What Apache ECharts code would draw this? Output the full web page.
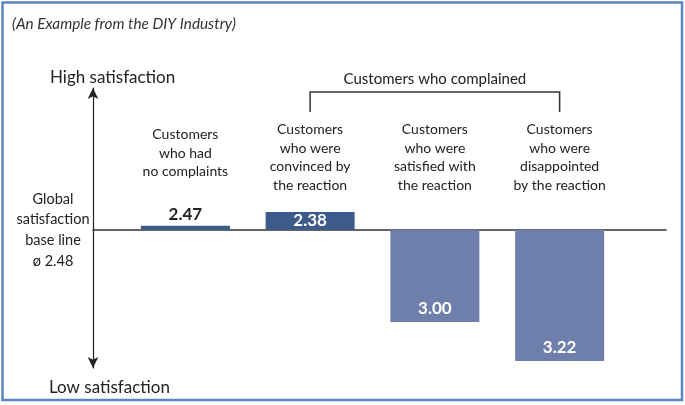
<!DOCTYPE html>
<html><head><meta charset="utf-8">
<script src="https://cdn.jsdelivr.net/npm/echarts@6/dist/echarts.min.js"></script>
<style>html,body{margin:0;padding:0;background:#fff}#c{width:685px;height:405px}</style>
</head><body><div id="c"></div>
<script>
const categories = [
  'Customers\nwho had\nno complaints',
  'Customers\nwho were\nconvinced by\nthe reaction',
  'Customers\nwho were\nsatisfied with\nthe reaction',
  'Customers\nwho were\ndisappointed\nby the reaction'
];
const scores = [2.47, 2.38, 3.00, 3.22];
const baseline = 2.48;
const barColors = ['#3c5a8a', '#3c5a8a', '#6e7fab', '#6e7fab'];
const labelColors = ['#222222', '#ffffff', '#ffffff', '#ffffff'];
const labelPositions = ['top', 'inside', 'insideBottom', 'insideBottom'];
const groupLabel = 'Customers who complained';
const subtitle = '(An Example from the DIY Industry)';
const axisTopText = 'High satisfaction';
const axisBottomText = 'Low satisfaction';
const baselineText = 'Global\nsatisfaction\nbase line\n\u00f8 ' + baseline.toFixed(2);

const FONT = 'Lato';
const gridTop = 88, gridBottom = 37;
const yMin = -0.8, yMax = 0.78;

const chart = echarts.init(document.getElementById('c'));

const seriesData = scores.map((v, i) => ({
  value: +(v - baseline).toFixed(4),
  itemStyle: { color: barColors[i] },
  label: {
    show: true,
    position: labelPositions[i],
    distance: labelPositions[i] === 'top' ? 3 : 5,
    color: labelColors[i],
    formatter: () => v.toFixed(2)
  }
}));

const catLabelStyle = { verticalAlign: 'top', fontFamily: FONT, fontSize: 14, lineHeight: 18.7, color: '#222' };

const option = {
  animation: false,
  backgroundColor: '#ffffff',
  grid: [
    { left: 123, right: 63, top: gridTop, bottom: gridBottom },
    { left: 93, right: 19, top: gridTop, bottom: gridBottom }
  ],
  xAxis: [
    {
      type: 'category', gridIndex: 0,
      data: categories.map((c, i) => i === 0 ? { value: c, textStyle: Object.assign({}, catLabelStyle, { padding: [5, 0, 0, 0] }) } : c),
      position: 'top', offset: -40,
      axisLine: { show: false, onZero: false }, axisTick: { show: false },
      axisLabel: Object.assign({ interval: 0, margin: 8 }, catLabelStyle),
      splitLine: { show: false }
    },
    {
      type: 'value', gridIndex: 1, min: 0, max: 1,
      axisLine: { show: true, onZero: true, lineStyle: { color: '#333', width: 1.5 } },
      axisTick: { show: false }, axisLabel: { show: false }, splitLine: { show: false }
    }
  ],
  yAxis: [
    { type: 'value', gridIndex: 0, inverse: true, min: yMin, max: yMax, show: false, splitLine: { show: false } },
    {
      type: 'value', gridIndex: 1, inverse: true, min: yMin, max: yMax,
      axisLine: { show: true, onZero: false, symbol: ['arrow', 'arrow'], symbolSize: [8, 11], lineStyle: { color: '#222', width: 1.2 } },
      axisTick: { show: false }, axisLabel: { show: false }, splitLine: { show: false }
    }
  ],
  series: [{
    type: 'bar', xAxisIndex: 0, yAxisIndex: 0,
    barWidth: 89, barMinHeight: 4,
    label: { fontFamily: FONT, fontSize: 17, fontWeight: 'bold' },
    data: seriesData
  }]
};
chart.setOption(option);

const pA = chart.convertToPixel({ xAxisIndex: 0, yAxisIndex: 0 }, [1, 0]);
const pB = chart.convertToPixel({ xAxisIndex: 0, yAxisIndex: 0 }, [3, 0]);

chart.setOption({
  graphic: [
    { type: 'rect', silent: true, shape: { x: 2.5, y: 2.5, width: 679.5, height: 397.5 }, style: { fill: null, stroke: '#5a86bb', lineWidth: 2.5 } },
    { type: 'text', x: 12, y: 24, style: { text: subtitle, fontFamily: FONT, fontStyle: 'italic', fontSize: 15.3, fill: '#333', verticalAlign: 'middle' } },
    { type: 'text', x: 50, y: 78, style: { text: axisTopText, fontFamily: FONT, fontSize: 17, fill: '#222', verticalAlign: 'middle' } },
    { type: 'text', x: 49, y: 388, style: { text: axisBottomText, fontFamily: FONT, fontSize: 17, fill: '#222', verticalAlign: 'middle' } },
    { type: 'text', x: 53, y: 230, style: { text: baselineText, fontFamily: FONT, fontSize: 14.5, lineHeight: 20.6, fill: '#222', align: 'center', verticalAlign: 'middle' } },
    { type: 'polyline', silent: true, shape: { points: [[pA[0], 112], [pA[0], 92], [pB[0], 92], [pB[0], 112]] }, style: { fill: null, stroke: '#333', lineWidth: 1.5 } },
    { type: 'text', x: (pA[0] + pB[0]) / 2, y: 79, style: { text: groupLabel, fontFamily: FONT, fontSize: 15, fill: '#222', align: 'center', verticalAlign: 'middle' } }
  ]
});
</script>
</body></html>
